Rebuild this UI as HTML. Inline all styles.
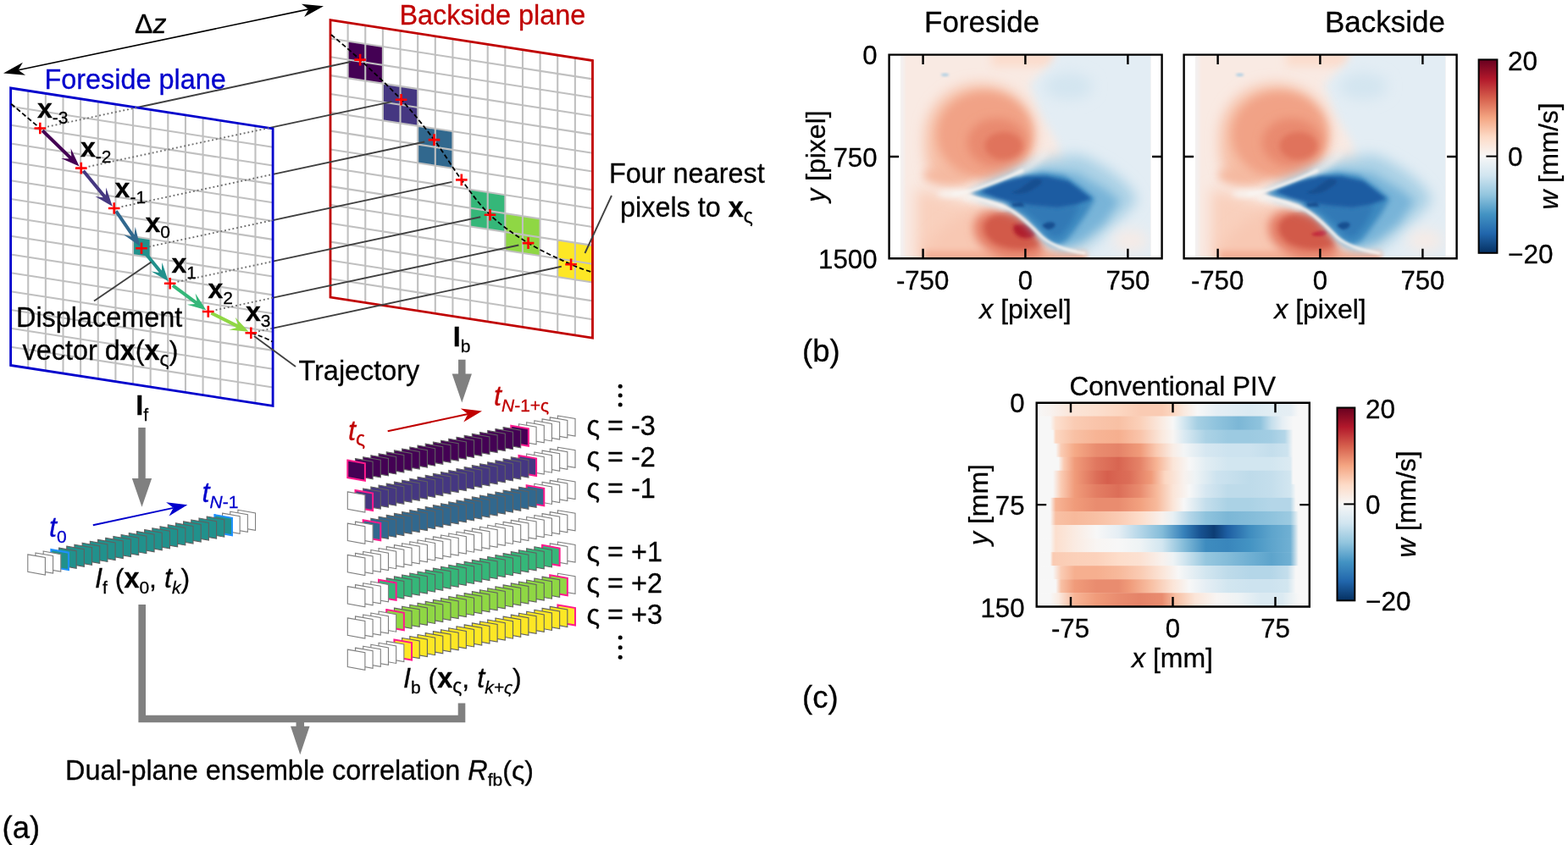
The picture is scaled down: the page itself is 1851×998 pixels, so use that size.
<!DOCTYPE html>
<html lang="en"><head><meta charset="utf-8"><title>Dual-plane ensemble correlation</title>
<style>html,body{margin:0;padding:0;background:#fff}svg{display:block}text{font-family:"Liberation Sans",sans-serif;fill:#000;stroke:#000;stroke-width:.3px}.bl{fill:#0000cc;stroke:#0000cc}.rd{fill:#c00000;stroke:#c00000}.i{font-style:italic}.b{font-weight:bold}</style>
</head><body>
<svg width="1851" height="998" viewBox="0 0 1851 998">
<defs><linearGradient id="cb" x1="0" y1="0" x2="0" y2="1"><stop offset="0" stop-color="#67001f"/><stop offset="0.1" stop-color="#b2182b"/><stop offset="0.2" stop-color="#d6604d"/><stop offset="0.3" stop-color="#f4a582"/><stop offset="0.4" stop-color="#fddbc7"/><stop offset="0.5" stop-color="#f7f7f7"/><stop offset="0.6" stop-color="#d1e5f0"/><stop offset="0.7" stop-color="#92c5de"/><stop offset="0.8" stop-color="#4393c3"/><stop offset="0.9" stop-color="#2166ac"/><stop offset="1" stop-color="#053061"/></linearGradient><filter id="b6" x="-50%" y="-50%" width="200%" height="200%"><feGaussianBlur stdDeviation="6"/></filter><filter id="b8" x="-50%" y="-50%" width="200%" height="200%"><feGaussianBlur stdDeviation="8"/></filter><filter id="b12" x="-50%" y="-50%" width="200%" height="200%"><feGaussianBlur stdDeviation="12"/></filter><filter id="b20" x="-50%" y="-50%" width="200%" height="200%"><feGaussianBlur stdDeviation="20"/></filter><filter id="b30" x="-50%" y="-50%" width="200%" height="200%"><feGaussianBlur stdDeviation="30"/></filter><clipPath id="hclip"><rect x="88" y="37" width="1134" height="925"/></clipPath><linearGradient id="c0"><stop offset="0" stop-color="#f7f7f7"/><stop offset="0.05" stop-color="#f8f2ef"/><stop offset="0.13" stop-color="#fbe5d8"/><stop offset="0.22" stop-color="#fcdfce"/><stop offset="0.3" stop-color="#fcd7c2"/><stop offset="0.38" stop-color="#facbb3"/><stop offset="0.46" stop-color="#facbb3"/><stop offset="0.5" stop-color="#fcd7c2"/><stop offset="0.54" stop-color="#fae9de"/><stop offset="0.59" stop-color="#f7f7f7"/><stop offset="0.66" stop-color="#e5eef4"/><stop offset="0.78" stop-color="#dbeaf2"/><stop offset="0.86" stop-color="#e1edf3"/><stop offset="0.93" stop-color="#e5eef4"/><stop offset="0.96" stop-color="#f7f7f7"/><stop offset="1" stop-color="#f7f7f7"/></linearGradient><linearGradient id="c1"><stop offset="0" stop-color="#f7f7f7"/><stop offset="0.05" stop-color="#f7f7f7"/><stop offset="0.07" stop-color="#fcdfce"/><stop offset="0.14" stop-color="#facbb3"/><stop offset="0.22" stop-color="#f9c4aa"/><stop offset="0.3" stop-color="#f8c0a4"/><stop offset="0.38" stop-color="#fbd0b9"/><stop offset="0.46" stop-color="#faebe2"/><stop offset="0.5" stop-color="#f7f7f7"/><stop offset="0.54" stop-color="#d2e6f0"/><stop offset="0.59" stop-color="#a5cfe3"/><stop offset="0.66" stop-color="#8fc3dd"/><stop offset="0.74" stop-color="#7cb7d6"/><stop offset="0.82" stop-color="#8fc3dd"/><stop offset="0.86" stop-color="#c4deec"/><stop offset="0.9" stop-color="#e5eef4"/><stop offset="0.94" stop-color="#f7f7f7"/><stop offset="1" stop-color="#f7f7f7"/></linearGradient><linearGradient id="c2"><stop offset="0" stop-color="#f7f7f7"/><stop offset="0.06" stop-color="#f7f7f7"/><stop offset="0.07" stop-color="#fcd7c2"/><stop offset="0.14" stop-color="#f8c0a4"/><stop offset="0.22" stop-color="#f7b495"/><stop offset="0.3" stop-color="#f6af8f"/><stop offset="0.38" stop-color="#f9c4aa"/><stop offset="0.46" stop-color="#fae9de"/><stop offset="0.5" stop-color="#f8f5f3"/><stop offset="0.54" stop-color="#dbeaf2"/><stop offset="0.62" stop-color="#abd2e5"/><stop offset="0.7" stop-color="#9ccae1"/><stop offset="0.78" stop-color="#9ccae1"/><stop offset="0.86" stop-color="#a2cde3"/><stop offset="0.91" stop-color="#b4d6e8"/><stop offset="0.94" stop-color="#f7f7f7"/><stop offset="1" stop-color="#f7f7f7"/></linearGradient><linearGradient id="c3"><stop offset="0" stop-color="#f7f7f7"/><stop offset="0.07" stop-color="#f7f7f7"/><stop offset="0.09" stop-color="#facbb3"/><stop offset="0.14" stop-color="#f5a986"/><stop offset="0.22" stop-color="#e98c6f"/><stop offset="0.3" stop-color="#e58368"/><stop offset="0.38" stop-color="#f09b7a"/><stop offset="0.44" stop-color="#facbb3"/><stop offset="0.5" stop-color="#f9ede6"/><stop offset="0.54" stop-color="#f3f5f6"/><stop offset="0.62" stop-color="#d6e7f1"/><stop offset="0.7" stop-color="#cde3ef"/><stop offset="0.78" stop-color="#cde3ef"/><stop offset="0.86" stop-color="#c4deec"/><stop offset="0.92" stop-color="#cde3ef"/><stop offset="0.94" stop-color="#f7f7f7"/><stop offset="1" stop-color="#f7f7f7"/></linearGradient><linearGradient id="c4"><stop offset="0" stop-color="#f7f7f7"/><stop offset="0.08" stop-color="#f7f7f7"/><stop offset="0.1" stop-color="#facbb3"/><stop offset="0.14" stop-color="#f09b7a"/><stop offset="0.22" stop-color="#e0775f"/><stop offset="0.3" stop-color="#d86551"/><stop offset="0.38" stop-color="#e58368"/><stop offset="0.44" stop-color="#f7b495"/><stop offset="0.5" stop-color="#fbe5d8"/><stop offset="0.56" stop-color="#f7f7f7"/><stop offset="0.62" stop-color="#e1edf3"/><stop offset="0.7" stop-color="#d2e6f0"/><stop offset="0.78" stop-color="#d2e6f0"/><stop offset="0.86" stop-color="#d2e6f0"/><stop offset="0.93" stop-color="#dbeaf2"/><stop offset="0.94" stop-color="#f7f7f7"/><stop offset="1" stop-color="#f7f7f7"/></linearGradient><linearGradient id="c5"><stop offset="0" stop-color="#f7f7f7"/><stop offset="0.06" stop-color="#f7f7f7"/><stop offset="0.09" stop-color="#facbb3"/><stop offset="0.14" stop-color="#f09b7a"/><stop offset="0.22" stop-color="#dc6e58"/><stop offset="0.26" stop-color="#d65f4d"/><stop offset="0.34" stop-color="#dc6e58"/><stop offset="0.42" stop-color="#f09b7a"/><stop offset="0.47" stop-color="#fcd7c2"/><stop offset="0.54" stop-color="#f8f1ed"/><stop offset="0.58" stop-color="#eef3f5"/><stop offset="0.66" stop-color="#cde3ef"/><stop offset="0.78" stop-color="#bedbea"/><stop offset="0.86" stop-color="#c4deec"/><stop offset="0.93" stop-color="#d2e6f0"/><stop offset="0.94" stop-color="#f7f7f7"/><stop offset="1" stop-color="#f7f7f7"/></linearGradient><linearGradient id="c6"><stop offset="0" stop-color="#f7f7f7"/><stop offset="0.06" stop-color="#f7f7f7"/><stop offset="0.09" stop-color="#facbb3"/><stop offset="0.14" stop-color="#f09b7a"/><stop offset="0.22" stop-color="#e37d63"/><stop offset="0.3" stop-color="#dc6e58"/><stop offset="0.38" stop-color="#e98c6f"/><stop offset="0.44" stop-color="#f7b99b"/><stop offset="0.5" stop-color="#fbe5d8"/><stop offset="0.56" stop-color="#f7f7f7"/><stop offset="0.62" stop-color="#d6e7f1"/><stop offset="0.7" stop-color="#bedbea"/><stop offset="0.78" stop-color="#bedbea"/><stop offset="0.86" stop-color="#c4deec"/><stop offset="0.93" stop-color="#d2e6f0"/><stop offset="0.95" stop-color="#f7f7f7"/><stop offset="1" stop-color="#f7f7f7"/></linearGradient><linearGradient id="c7"><stop offset="0" stop-color="#f7f7f7"/><stop offset="0.05" stop-color="#f7f7f7"/><stop offset="0.07" stop-color="#f7b495"/><stop offset="0.14" stop-color="#f09b7a"/><stop offset="0.22" stop-color="#e98c6f"/><stop offset="0.3" stop-color="#e98c6f"/><stop offset="0.38" stop-color="#f2a17f"/><stop offset="0.44" stop-color="#f7b99b"/><stop offset="0.5" stop-color="#fbe5d8"/><stop offset="0.54" stop-color="#f7f7f7"/><stop offset="0.62" stop-color="#c4deec"/><stop offset="0.7" stop-color="#abd2e5"/><stop offset="0.78" stop-color="#abd2e5"/><stop offset="0.86" stop-color="#b4d6e8"/><stop offset="0.93" stop-color="#b4d6e8"/><stop offset="0.95" stop-color="#f7f7f7"/><stop offset="1" stop-color="#f7f7f7"/></linearGradient><linearGradient id="c8"><stop offset="0" stop-color="#f7f7f7"/><stop offset="0.05" stop-color="#f7f7f7"/><stop offset="0.07" stop-color="#f8c0a4"/><stop offset="0.14" stop-color="#f7b99b"/><stop offset="0.22" stop-color="#f8c0a4"/><stop offset="0.3" stop-color="#facbb3"/><stop offset="0.38" stop-color="#fdddca"/><stop offset="0.46" stop-color="#f8f1ed"/><stop offset="0.5" stop-color="#e8f0f4"/><stop offset="0.56" stop-color="#b4d6e8"/><stop offset="0.62" stop-color="#8fc3dd"/><stop offset="0.7" stop-color="#7cb7d6"/><stop offset="0.78" stop-color="#84bcd9"/><stop offset="0.86" stop-color="#8fc3dd"/><stop offset="0.93" stop-color="#9ccae1"/><stop offset="0.96" stop-color="#f7f7f7"/><stop offset="1" stop-color="#f7f7f7"/></linearGradient><linearGradient id="c9"><stop offset="0" stop-color="#f7f7f7"/><stop offset="0.05" stop-color="#f7f7f7"/><stop offset="0.07" stop-color="#fcdfce"/><stop offset="0.14" stop-color="#faebe2"/><stop offset="0.22" stop-color="#f7f7f7"/><stop offset="0.3" stop-color="#e5eef4"/><stop offset="0.38" stop-color="#b4d6e8"/><stop offset="0.46" stop-color="#84bcd9"/><stop offset="0.54" stop-color="#3681ba"/><stop offset="0.6" stop-color="#175291"/><stop offset="0.65" stop-color="#0c3d74"/><stop offset="0.7" stop-color="#1e5fa3"/><stop offset="0.78" stop-color="#3e8cbf"/><stop offset="0.86" stop-color="#5da4cc"/><stop offset="0.93" stop-color="#70b0d3"/><stop offset="0.96" stop-color="#f7f7f7"/><stop offset="1" stop-color="#f7f7f7"/></linearGradient><linearGradient id="c10"><stop offset="0" stop-color="#f7f7f7"/><stop offset="0.05" stop-color="#f7f7f7"/><stop offset="0.07" stop-color="#fcdfce"/><stop offset="0.14" stop-color="#faebe2"/><stop offset="0.22" stop-color="#f8f5f3"/><stop offset="0.3" stop-color="#f7f7f7"/><stop offset="0.38" stop-color="#eef3f5"/><stop offset="0.46" stop-color="#d2e6f0"/><stop offset="0.54" stop-color="#84bcd9"/><stop offset="0.62" stop-color="#3e8cbf"/><stop offset="0.7" stop-color="#3986bc"/><stop offset="0.78" stop-color="#4393c3"/><stop offset="0.86" stop-color="#5da4cc"/><stop offset="0.93" stop-color="#70b0d3"/><stop offset="0.96" stop-color="#f7f7f7"/><stop offset="1" stop-color="#f7f7f7"/></linearGradient><linearGradient id="c11"><stop offset="0" stop-color="#f7f7f7"/><stop offset="0.05" stop-color="#f7f7f7"/><stop offset="0.06" stop-color="#facbb3"/><stop offset="0.14" stop-color="#fbd0b9"/><stop offset="0.22" stop-color="#fcd2bc"/><stop offset="0.3" stop-color="#fdddca"/><stop offset="0.38" stop-color="#fce1d2"/><stop offset="0.46" stop-color="#f8f1ed"/><stop offset="0.5" stop-color="#eef3f5"/><stop offset="0.54" stop-color="#d2e6f0"/><stop offset="0.62" stop-color="#96c7df"/><stop offset="0.7" stop-color="#84bcd9"/><stop offset="0.78" stop-color="#70b0d3"/><stop offset="0.86" stop-color="#5da4cc"/><stop offset="0.93" stop-color="#70b0d3"/><stop offset="0.96" stop-color="#f7f7f7"/><stop offset="1" stop-color="#f7f7f7"/></linearGradient><linearGradient id="c12"><stop offset="0" stop-color="#f7f7f7"/><stop offset="0.06" stop-color="#f7f7f7"/><stop offset="0.09" stop-color="#facbb3"/><stop offset="0.14" stop-color="#f6af8f"/><stop offset="0.22" stop-color="#f6af8f"/><stop offset="0.3" stop-color="#f7b99b"/><stop offset="0.38" stop-color="#facbb3"/><stop offset="0.46" stop-color="#fbe5d8"/><stop offset="0.52" stop-color="#f7f7f7"/><stop offset="0.62" stop-color="#d2e6f0"/><stop offset="0.7" stop-color="#bedbea"/><stop offset="0.78" stop-color="#b4d6e8"/><stop offset="0.86" stop-color="#b4d6e8"/><stop offset="0.92" stop-color="#c4deec"/><stop offset="0.95" stop-color="#f7f7f7"/><stop offset="1" stop-color="#f7f7f7"/></linearGradient><linearGradient id="c13"><stop offset="0" stop-color="#f7f7f7"/><stop offset="0.07" stop-color="#f7f7f7"/><stop offset="0.09" stop-color="#f8c0a4"/><stop offset="0.14" stop-color="#f09b7a"/><stop offset="0.22" stop-color="#e98c6f"/><stop offset="0.3" stop-color="#e98c6f"/><stop offset="0.34" stop-color="#f09b7a"/><stop offset="0.42" stop-color="#f8c0a4"/><stop offset="0.5" stop-color="#fbe5d8"/><stop offset="0.56" stop-color="#f7f7f7"/><stop offset="0.62" stop-color="#e5eef4"/><stop offset="0.7" stop-color="#d2e6f0"/><stop offset="0.78" stop-color="#cde3ef"/><stop offset="0.86" stop-color="#cde3ef"/><stop offset="0.92" stop-color="#d2e6f0"/><stop offset="0.95" stop-color="#f7f7f7"/><stop offset="1" stop-color="#f7f7f7"/></linearGradient><linearGradient id="c14"><stop offset="0" stop-color="#f7f7f7"/><stop offset="0.05" stop-color="#f7f7f7"/><stop offset="0.08" stop-color="#faebe2"/><stop offset="0.14" stop-color="#f7b495"/><stop offset="0.22" stop-color="#f09b7a"/><stop offset="0.3" stop-color="#e98c6f"/><stop offset="0.38" stop-color="#e58368"/><stop offset="0.46" stop-color="#e98c6f"/><stop offset="0.51" stop-color="#f8c0a4"/><stop offset="0.58" stop-color="#fbe5d8"/><stop offset="0.66" stop-color="#f8f5f3"/><stop offset="0.74" stop-color="#eef3f5"/><stop offset="0.82" stop-color="#dbeaf2"/><stop offset="0.9" stop-color="#dbeaf2"/><stop offset="0.94" stop-color="#eef3f5"/><stop offset="0.96" stop-color="#f7f7f7"/><stop offset="1" stop-color="#f7f7f7"/></linearGradient></defs>
<rect width="1851" height="998" fill="#fff"/>
<g id="backplane">
<polygon points="410.63,48.63 451.9,55.02 451.9,98.68 410.63,92.29" fill="#440154"/>
<polygon points="451.9,98.68 493.17,105.07 493.17,148.74 451.9,142.35" fill="#453781"/>
<polygon points="493.17,148.74 534.43,155.12 534.43,198.79 493.17,192.4" fill="#31688e"/>
<polygon points="555.07,223.82 596.33,230.21 596.33,273.87 555.07,267.49" fill="#35b779"/>
<polygon points="596.33,252.04 637.6,258.43 637.6,302.1 596.33,295.71" fill="#8fd744"/>
<polygon points="658.23,283.46 699.5,289.84 699.5,333.51 658.23,327.12" fill="#fde725"/>
<path d="M410.63 26.79L410.63 354.29M390 45.43L699.5 93.34M431.27 29.99L431.27 357.49M390 67.27L699.5 115.18M451.9 33.18L451.9 360.68M390 89.1L699.5 137.01M472.53 36.38L472.53 363.88M390 110.93L699.5 158.84M493.17 39.57L493.17 367.07M390 132.77L699.5 180.68M513.8 42.76L513.8 370.26M390 154.6L699.5 202.51M534.43 45.96L534.43 373.46M390 176.43L699.5 224.34M555.07 49.15L555.07 376.65M390 198.27L699.5 246.18M575.7 52.35L575.7 379.85M390 220.1L699.5 268.01M596.33 55.54L596.33 383.04M390 241.93L699.5 289.84M616.97 58.73L616.97 386.23M390 263.77L699.5 311.68M637.6 61.93L637.6 389.43M390 285.6L699.5 333.51M658.23 65.12L658.23 392.62M390 307.43L699.5 355.34M678.87 68.32L678.87 395.82M390 329.27L699.5 377.18" stroke="#c0c0c0" stroke-width="2.1" fill="none"/>
<polygon points="390,23.6 699.5,71.51 699.5,399.01 390,351.1" fill="none" stroke="#c00000" stroke-width="2.8" stroke-linejoin="miter"/>
</g>
<g id="links" fill="none">
<line x1="161.71" y1="127" x2="413.85" y2="73.01" stroke="#404040" stroke-width="1.9"/>
<line x1="317.52" y1="151.12" x2="462.35" y2="120.11" stroke="#404040" stroke-width="1.9"/>
<line x1="322.2" y1="205.85" x2="501.25" y2="167.51" stroke="#404040" stroke-width="1.9"/>
<line x1="322.23" y1="260.06" x2="533.55" y2="214.81" stroke="#404040" stroke-width="1.9"/>
<line x1="322.2" y1="308.68" x2="567.25" y2="256.21" stroke="#404040" stroke-width="1.9"/>
<line x1="322.32" y1="351.62" x2="612.35" y2="289.51" stroke="#404040" stroke-width="1.9"/>
<line x1="322.21" y1="387.65" x2="662.85" y2="314.71" stroke="#404040" stroke-width="1.9"/>
</g>
<path d="M391 41C396.68 45.93 411.33 57.82 425.1 70.6C438.87 83.38 459.03 101.95 473.6 117.7C488.17 133.45 500.63 149.32 512.5 165.1C524.37 180.88 533.8 197.62 544.8 212.4C555.8 227.18 565.37 241.35 578.5 253.8C591.63 266.25 607.67 277.35 623.6 287.1C639.53 296.85 661.53 306.57 674.1 312.3C686.67 318.03 694.85 319.97 699 321.5" stroke="#000" stroke-width="1.8" stroke-dasharray="5.5 3" fill="none"/>
<path d="M418.3 70.6H431.9M425.1 63.8V77.4" stroke="#ff0000" stroke-width="2.6" fill="none"/>
<path d="M466.8 117.7H480.4M473.6 110.9V124.5" stroke="#ff0000" stroke-width="2.6" fill="none"/>
<path d="M505.7 165.1H519.3M512.5 158.3V171.9" stroke="#ff0000" stroke-width="2.6" fill="none"/>
<path d="M538 212.4H551.6M544.8 205.6V219.2" stroke="#ff0000" stroke-width="2.6" fill="none"/>
<path d="M571.7 253.8H585.3M578.5 247V260.6" stroke="#ff0000" stroke-width="2.6" fill="none"/>
<path d="M616.8 287.1H630.4M623.6 280.3V293.9" stroke="#ff0000" stroke-width="2.6" fill="none"/>
<path d="M667.3 312.3H680.9M674.1 305.5V319.1" stroke="#ff0000" stroke-width="2.6" fill="none"/>
<g id="foreplane">
<polygon points="12.6,104 322.1,151.91 322.1,479.41 12.6,431.5" fill="#fff"/>
<polygon points="157.03,279.19 177.67,282.39 177.67,304.22 157.03,301.02" fill="#21918c"/>
<path d="M33.23 107.19L33.23 434.69M12.6 125.83L322.1 173.74M53.87 110.39L53.87 437.89M12.6 147.67L322.1 195.58M74.5 113.58L74.5 441.08M12.6 169.5L322.1 217.41M95.13 116.78L95.13 444.28M12.6 191.33L322.1 239.24M115.77 119.97L115.77 447.47M12.6 213.17L322.1 261.08M136.4 123.16L136.4 450.66M12.6 235L322.1 282.91M157.03 126.36L157.03 453.86M12.6 256.83L322.1 304.74M177.67 129.55L177.67 457.05M12.6 278.67L322.1 326.58M198.3 132.75L198.3 460.25M12.6 300.5L322.1 348.41M218.93 135.94L218.93 463.44M12.6 322.33L322.1 370.24M239.57 139.13L239.57 466.63M12.6 344.17L322.1 392.08M260.2 142.33L260.2 469.83M12.6 366L322.1 413.91M280.83 145.52L280.83 473.02M12.6 387.83L322.1 435.74M301.47 148.72L301.47 476.22M12.6 409.67L322.1 457.58" stroke="#c0c0c0" stroke-width="2.1" fill="none"/>
<polygon points="12.6,104 322.1,151.91 322.1,479.41 12.6,431.5" fill="none" stroke="#0000cc" stroke-width="2.8" stroke-linejoin="miter"/>
</g>
<line x1="56.1" y1="149.62" x2="161.71" y2="127" stroke="#707070" stroke-width="1.9" stroke-dasharray="1.9 2.9"/>
<line x1="104.6" y1="196.72" x2="317.52" y2="151.12" stroke="#707070" stroke-width="1.9" stroke-dasharray="1.9 2.9"/>
<line x1="143.5" y1="244.12" x2="322.2" y2="205.85" stroke="#707070" stroke-width="1.9" stroke-dasharray="1.9 2.9"/>
<line x1="175.8" y1="291.42" x2="322.23" y2="260.06" stroke="#707070" stroke-width="1.9" stroke-dasharray="1.9 2.9"/>
<line x1="209.5" y1="332.82" x2="322.2" y2="308.68" stroke="#707070" stroke-width="1.9" stroke-dasharray="1.9 2.9"/>
<line x1="254.6" y1="366.12" x2="322.32" y2="351.62" stroke="#707070" stroke-width="1.9" stroke-dasharray="1.9 2.9"/>
<line x1="305.1" y1="391.32" x2="322.21" y2="387.65" stroke="#707070" stroke-width="1.9" stroke-dasharray="1.9 2.9"/>
<path d="M13.2 122.7L47.3 151.5" stroke="#000" stroke-width="1.8" stroke-dasharray="5.5 3" fill="none"/>
<path d="M296.3 393.2Q312 398 321.5 403.5" stroke="#000" stroke-width="1.8" stroke-dasharray="5.5 3" fill="none"/>
<polygon points="48.78,155.72 81.49,187.49 72.12,187.1 93.65,196.51 83.61,175.26 84.28,184.63 51.56,152.85" fill="#440154"/>
<polygon points="96.79,202.96 121.73,233.35 112.46,231.91 132.8,243.68 125.22,221.44 124.83,230.82 99.88,200.42" fill="#453781"/>
<polygon points="135.3,250.43 155.2,279.56 146.09,277.31 165.31,290.82 159.71,268 158.5,277.31 138.61,248.18" fill="#31688e"/>
<polygon points="167.97,297.66 187.79,322 178.52,320.52 198.81,332.37 191.32,310.1 190.89,319.48 171.08,295.14" fill="#21918c"/>
<polygon points="202.73,338.68 230.13,358.92 220.79,359.79 243.39,366.22 230.59,346.51 232.51,355.7 205.11,335.47" fill="#35b779"/>
<polygon points="248.49,371.58 279.3,386.95 270.25,389.42 293.62,391.86 277.61,374.66 281.09,383.37 250.27,368" fill="#8fd744"/>
<path d="M40.5 151.5H54.1M47.3 144.7V158.3" stroke="#ff0000" stroke-width="2.6" fill="none"/>
<path d="M89 198.6H102.6M95.8 191.8V205.4" stroke="#ff0000" stroke-width="2.6" fill="none"/>
<path d="M127.9 246H141.5M134.7 239.2V252.8" stroke="#ff0000" stroke-width="2.6" fill="none"/>
<path d="M160.2 293.3H173.8M167 286.5V300.1" stroke="#ff0000" stroke-width="2.6" fill="none"/>
<path d="M193.9 334.7H207.5M200.7 327.9V341.5" stroke="#ff0000" stroke-width="2.6" fill="none"/>
<path d="M239 368H252.6M245.8 361.2V374.8" stroke="#ff0000" stroke-width="2.6" fill="none"/>
<path d="M289.5 393.2H303.1M296.3 386.4V400" stroke="#ff0000" stroke-width="2.6" fill="none"/>
<polygon points="4,86.4 26.88,73.69 21.62,82.71 30.06,88.86" fill="#000"/><line x1="21.62" y1="82.71" x2="364.38" y2="10.89" stroke="#000" stroke-width="1.6"/><polygon points="382,7.2 359.12,19.91 364.38,10.89 355.94,4.74" fill="#000"/>
<text x="159" y="39" font-size="32"><tspan>Δ</tspan><tspan class="i">z</tspan></text>
<text x="52.5" y="105" font-size="32.4" class="bl">Foreside plane</text>
<text x="471.5" y="28.5" font-size="32.4" class="rd">Backside plane</text>
<text x="44" y="139" font-size="32"><tspan class="b">x</tspan><tspan dy="7" font-size="21">-3</tspan></text>
<text x="95" y="184.5" font-size="32"><tspan class="b">x</tspan><tspan dy="7" font-size="21">-2</tspan></text>
<text x="135.6" y="233" font-size="32"><tspan class="b">x</tspan><tspan dy="7" font-size="21">-1</tspan></text>
<text x="171.5" y="273.5" font-size="32"><tspan class="b">x</tspan><tspan dy="7" font-size="21">0</tspan></text>
<text x="202.5" y="321.5" font-size="32"><tspan class="b">x</tspan><tspan dy="7" font-size="21">1</tspan></text>
<text x="245.4" y="352" font-size="32"><tspan class="b">x</tspan><tspan dy="7" font-size="21">2</tspan></text>
<text x="290" y="379" font-size="32"><tspan class="b">x</tspan><tspan dy="7" font-size="21">3</tspan></text>
<path d="M111 355.5L178.5 309.5" stroke="#404040" stroke-width="1.9" fill="none"/>
<text x="19" y="386" font-size="32.4">Displacement</text>
<text x="26.5" y="424.5" font-size="32.4"><tspan>vector d</tspan><tspan class="b">x</tspan><tspan>(</tspan><tspan class="b">x</tspan><tspan dy="7" font-size="23">ς</tspan><tspan dy="-7" font-size="32">)</tspan></text>
<path d="M300 397L349 433" stroke="#404040" stroke-width="1.9" fill="none"/>
<text x="352.5" y="448.5" font-size="32.4">Trajectory</text>
<path d="M722 231L690.5 299" stroke="#404040" stroke-width="1.9" fill="none"/>
<text x="719" y="215.5" font-size="32.4">Four nearest</text>
<text x="732" y="256" font-size="32.4"><tspan>pixels to </tspan><tspan class="b">x</tspan><tspan dy="7" font-size="23">ς</tspan></text>
<text x="160.3" y="489.7" font-size="32.4"><tspan class="b">I</tspan><tspan dy="7" font-size="21">f</tspan></text>
<text x="534.8" y="408.5" font-size="32.4"><tspan class="b">I</tspan><tspan dy="7" font-size="21">b</tspan></text>
<polygon points="163.25,504.9 171.75,504.9 171.75,565 179.15,565 167.5,598.7 155.85,565 163.25,565" fill="#808080"/>
<polygon points="541.05,424.7 549.55,424.7 549.55,441.5 556.95,441.5 545.3,475.5 533.65,441.5 541.05,441.5" fill="#808080"/>
<path d="M167.7 714V849H545V830.6" stroke="#808080" stroke-width="8.6" fill="none" stroke-linejoin="miter"/>
<polygon points="349.55,850 359.05,850 359.05,857.7 365.55,857.7 354.3,891.3 343.05,857.7 349.55,857.7" fill="#808080"/>
<g stroke-linejoin="miter"><polygon points="280.93,602.25 301.53,605.88 301.53,626.38 280.93,622.75" fill="#fff" stroke="#7f7f7f" stroke-width="1.1"/><polygon points="271.74,604.2 292.34,607.83 292.34,628.33 271.74,624.7" fill="#fff" stroke="#7f7f7f" stroke-width="1.1"/><polygon points="262.55,606.15 283.15,609.78 283.15,630.28 262.55,626.65" fill="#fff" stroke="#7f7f7f" stroke-width="1.1"/><polygon points="253.36,608.1 273.96,611.73 273.96,632.23 253.36,628.6" fill="#21918c" stroke="#1e90ff" stroke-width="2"/><polygon points="244.17,610.05 264.77,613.68 264.77,634.18 244.17,630.55" fill="#21918c" stroke="#606060" stroke-width="1.1"/><polygon points="234.98,612 255.58,615.63 255.58,636.13 234.98,632.5" fill="#21918c" stroke="#606060" stroke-width="1.1"/><polygon points="225.79,613.95 246.39,617.58 246.39,638.08 225.79,634.45" fill="#21918c" stroke="#606060" stroke-width="1.1"/><polygon points="216.6,615.9 237.2,619.53 237.2,640.03 216.6,636.4" fill="#21918c" stroke="#606060" stroke-width="1.1"/><polygon points="207.41,617.85 228.01,621.48 228.01,641.98 207.41,638.35" fill="#21918c" stroke="#606060" stroke-width="1.1"/><polygon points="198.22,619.8 218.82,623.43 218.82,643.93 198.22,640.3" fill="#21918c" stroke="#606060" stroke-width="1.1"/><polygon points="189.03,621.75 209.63,625.38 209.63,645.88 189.03,642.25" fill="#21918c" stroke="#606060" stroke-width="1.1"/><polygon points="179.84,623.7 200.44,627.33 200.44,647.83 179.84,644.2" fill="#21918c" stroke="#606060" stroke-width="1.1"/><polygon points="170.65,625.65 191.25,629.28 191.25,649.78 170.65,646.15" fill="#21918c" stroke="#606060" stroke-width="1.1"/><polygon points="161.46,627.6 182.06,631.23 182.06,651.73 161.46,648.1" fill="#21918c" stroke="#606060" stroke-width="1.1"/><polygon points="152.27,629.55 172.87,633.18 172.87,653.68 152.27,650.05" fill="#21918c" stroke="#606060" stroke-width="1.1"/><polygon points="143.08,631.5 163.68,635.13 163.68,655.63 143.08,652" fill="#21918c" stroke="#606060" stroke-width="1.1"/><polygon points="133.89,633.45 154.49,637.08 154.49,657.58 133.89,653.95" fill="#21918c" stroke="#606060" stroke-width="1.1"/><polygon points="124.7,635.4 145.3,639.03 145.3,659.53 124.7,655.9" fill="#21918c" stroke="#606060" stroke-width="1.1"/><polygon points="115.51,637.35 136.11,640.98 136.11,661.48 115.51,657.85" fill="#21918c" stroke="#606060" stroke-width="1.1"/><polygon points="106.32,639.3 126.92,642.93 126.92,663.43 106.32,659.8" fill="#21918c" stroke="#606060" stroke-width="1.1"/><polygon points="97.13,641.25 117.73,644.88 117.73,665.38 97.13,661.75" fill="#21918c" stroke="#606060" stroke-width="1.1"/><polygon points="87.94,643.2 108.54,646.83 108.54,667.33 87.94,663.7" fill="#21918c" stroke="#606060" stroke-width="1.1"/><polygon points="78.75,645.15 99.35,648.78 99.35,669.28 78.75,665.65" fill="#21918c" stroke="#606060" stroke-width="1.1"/><polygon points="69.56,647.1 90.16,650.73 90.16,671.23 69.56,667.6" fill="#21918c" stroke="#606060" stroke-width="1.1"/><polygon points="60.37,649.05 80.97,652.68 80.97,673.18 60.37,669.55" fill="#21918c" stroke="#1e90ff" stroke-width="2"/><polygon points="51.18,651 71.78,654.63 71.78,675.13 51.18,671.5" fill="#fff" stroke="#7f7f7f" stroke-width="1.1"/><polygon points="41.99,652.95 62.59,656.58 62.59,677.08 41.99,673.45" fill="#fff" stroke="#7f7f7f" stroke-width="1.1"/><polygon points="32.8,654.9 53.4,658.53 53.4,679.03 32.8,675.4" fill="#fff" stroke="#7f7f7f" stroke-width="1.1"/></g>
<g stroke-linejoin="miter"><polygon points="658.43,490.95 679.03,494.58 679.03,515.08 658.43,511.45" fill="#fff" stroke="#7f7f7f" stroke-width="1.1"/><polygon points="649.24,492.9 669.84,496.53 669.84,517.03 649.24,513.4" fill="#fff" stroke="#7f7f7f" stroke-width="1.1"/><polygon points="640.05,494.85 660.65,498.48 660.65,518.98 640.05,515.35" fill="#fff" stroke="#7f7f7f" stroke-width="1.1"/><polygon points="630.86,496.8 651.46,500.43 651.46,520.93 630.86,517.3" fill="#fff" stroke="#7f7f7f" stroke-width="1.1"/><polygon points="621.67,498.75 642.27,502.38 642.27,522.88 621.67,519.25" fill="#fff" stroke="#7f7f7f" stroke-width="1.1"/><polygon points="612.48,500.7 633.08,504.33 633.08,524.83 612.48,521.2" fill="#fff" stroke="#7f7f7f" stroke-width="1.1"/><polygon points="603.29,502.65 623.89,506.28 623.89,526.78 603.29,523.15" fill="#440154" stroke="#ff1a8c" stroke-width="2"/><polygon points="594.1,504.6 614.7,508.23 614.7,528.73 594.1,525.1" fill="#440154" stroke="#606060" stroke-width="1.1"/><polygon points="584.91,506.55 605.51,510.18 605.51,530.68 584.91,527.05" fill="#440154" stroke="#606060" stroke-width="1.1"/><polygon points="575.72,508.5 596.32,512.13 596.32,532.63 575.72,529" fill="#440154" stroke="#606060" stroke-width="1.1"/><polygon points="566.53,510.45 587.13,514.08 587.13,534.58 566.53,530.95" fill="#440154" stroke="#606060" stroke-width="1.1"/><polygon points="557.34,512.4 577.94,516.03 577.94,536.53 557.34,532.9" fill="#440154" stroke="#606060" stroke-width="1.1"/><polygon points="548.15,514.35 568.75,517.98 568.75,538.48 548.15,534.85" fill="#440154" stroke="#606060" stroke-width="1.1"/><polygon points="538.96,516.3 559.56,519.93 559.56,540.43 538.96,536.8" fill="#440154" stroke="#606060" stroke-width="1.1"/><polygon points="529.77,518.25 550.37,521.88 550.37,542.38 529.77,538.75" fill="#440154" stroke="#606060" stroke-width="1.1"/><polygon points="520.58,520.2 541.18,523.83 541.18,544.33 520.58,540.7" fill="#440154" stroke="#606060" stroke-width="1.1"/><polygon points="511.39,522.15 531.99,525.78 531.99,546.28 511.39,542.65" fill="#440154" stroke="#606060" stroke-width="1.1"/><polygon points="502.2,524.1 522.8,527.73 522.8,548.23 502.2,544.6" fill="#440154" stroke="#606060" stroke-width="1.1"/><polygon points="493.01,526.05 513.61,529.68 513.61,550.18 493.01,546.55" fill="#440154" stroke="#606060" stroke-width="1.1"/><polygon points="483.82,528 504.42,531.63 504.42,552.13 483.82,548.5" fill="#440154" stroke="#606060" stroke-width="1.1"/><polygon points="474.63,529.95 495.23,533.58 495.23,554.08 474.63,550.45" fill="#440154" stroke="#606060" stroke-width="1.1"/><polygon points="465.44,531.9 486.04,535.53 486.04,556.03 465.44,552.4" fill="#440154" stroke="#606060" stroke-width="1.1"/><polygon points="456.25,533.85 476.85,537.48 476.85,557.98 456.25,554.35" fill="#440154" stroke="#606060" stroke-width="1.1"/><polygon points="447.06,535.8 467.66,539.43 467.66,559.93 447.06,556.3" fill="#440154" stroke="#606060" stroke-width="1.1"/><polygon points="437.87,537.75 458.47,541.38 458.47,561.88 437.87,558.25" fill="#440154" stroke="#606060" stroke-width="1.1"/><polygon points="428.68,539.7 449.28,543.33 449.28,563.83 428.68,560.2" fill="#440154" stroke="#606060" stroke-width="1.1"/><polygon points="419.49,541.65 440.09,545.28 440.09,565.78 419.49,562.15" fill="#440154" stroke="#606060" stroke-width="1.1"/><polygon points="410.3,543.6 430.9,547.23 430.9,567.73 410.3,564.1" fill="#440154" stroke="#ff1a8c" stroke-width="2"/></g>
<g stroke-linejoin="miter"><polygon points="658.43,528.2 679.03,531.83 679.03,552.33 658.43,548.7" fill="#fff" stroke="#7f7f7f" stroke-width="1.1"/><polygon points="649.24,530.15 669.84,533.78 669.84,554.28 649.24,550.65" fill="#fff" stroke="#7f7f7f" stroke-width="1.1"/><polygon points="640.05,532.1 660.65,535.73 660.65,556.23 640.05,552.6" fill="#fff" stroke="#7f7f7f" stroke-width="1.1"/><polygon points="630.86,534.05 651.46,537.68 651.46,558.18 630.86,554.55" fill="#fff" stroke="#7f7f7f" stroke-width="1.1"/><polygon points="621.67,536 642.27,539.63 642.27,560.13 621.67,556.5" fill="#fff" stroke="#7f7f7f" stroke-width="1.1"/><polygon points="612.48,537.95 633.08,541.58 633.08,562.08 612.48,558.45" fill="#453781" stroke="#ff1a8c" stroke-width="2"/><polygon points="603.29,539.9 623.89,543.53 623.89,564.03 603.29,560.4" fill="#453781" stroke="#606060" stroke-width="1.1"/><polygon points="594.1,541.85 614.7,545.48 614.7,565.98 594.1,562.35" fill="#453781" stroke="#606060" stroke-width="1.1"/><polygon points="584.91,543.8 605.51,547.43 605.51,567.93 584.91,564.3" fill="#453781" stroke="#606060" stroke-width="1.1"/><polygon points="575.72,545.75 596.32,549.38 596.32,569.88 575.72,566.25" fill="#453781" stroke="#606060" stroke-width="1.1"/><polygon points="566.53,547.7 587.13,551.33 587.13,571.83 566.53,568.2" fill="#453781" stroke="#606060" stroke-width="1.1"/><polygon points="557.34,549.65 577.94,553.28 577.94,573.78 557.34,570.15" fill="#453781" stroke="#606060" stroke-width="1.1"/><polygon points="548.15,551.6 568.75,555.23 568.75,575.73 548.15,572.1" fill="#453781" stroke="#606060" stroke-width="1.1"/><polygon points="538.96,553.55 559.56,557.18 559.56,577.68 538.96,574.05" fill="#453781" stroke="#606060" stroke-width="1.1"/><polygon points="529.77,555.5 550.37,559.13 550.37,579.63 529.77,576" fill="#453781" stroke="#606060" stroke-width="1.1"/><polygon points="520.58,557.45 541.18,561.08 541.18,581.58 520.58,577.95" fill="#453781" stroke="#606060" stroke-width="1.1"/><polygon points="511.39,559.4 531.99,563.03 531.99,583.53 511.39,579.9" fill="#453781" stroke="#606060" stroke-width="1.1"/><polygon points="502.2,561.35 522.8,564.98 522.8,585.48 502.2,581.85" fill="#453781" stroke="#606060" stroke-width="1.1"/><polygon points="493.01,563.3 513.61,566.93 513.61,587.43 493.01,583.8" fill="#453781" stroke="#606060" stroke-width="1.1"/><polygon points="483.82,565.25 504.42,568.88 504.42,589.38 483.82,585.75" fill="#453781" stroke="#606060" stroke-width="1.1"/><polygon points="474.63,567.2 495.23,570.83 495.23,591.33 474.63,587.7" fill="#453781" stroke="#606060" stroke-width="1.1"/><polygon points="465.44,569.15 486.04,572.78 486.04,593.28 465.44,589.65" fill="#453781" stroke="#606060" stroke-width="1.1"/><polygon points="456.25,571.1 476.85,574.73 476.85,595.23 456.25,591.6" fill="#453781" stroke="#606060" stroke-width="1.1"/><polygon points="447.06,573.05 467.66,576.68 467.66,597.18 447.06,593.55" fill="#453781" stroke="#606060" stroke-width="1.1"/><polygon points="437.87,575 458.47,578.63 458.47,599.13 437.87,595.5" fill="#453781" stroke="#606060" stroke-width="1.1"/><polygon points="428.68,576.95 449.28,580.58 449.28,601.08 428.68,597.45" fill="#453781" stroke="#606060" stroke-width="1.1"/><polygon points="419.49,578.9 440.09,582.53 440.09,603.03 419.49,599.4" fill="#453781" stroke="#ff1a8c" stroke-width="2"/><polygon points="410.3,580.85 430.9,584.48 430.9,604.98 410.3,601.35" fill="#fff" stroke="#7f7f7f" stroke-width="1.1"/></g>
<g stroke-linejoin="miter"><polygon points="658.43,565.45 679.03,569.08 679.03,589.58 658.43,585.95" fill="#fff" stroke="#7f7f7f" stroke-width="1.1"/><polygon points="649.24,567.4 669.84,571.03 669.84,591.53 649.24,587.9" fill="#fff" stroke="#7f7f7f" stroke-width="1.1"/><polygon points="640.05,569.35 660.65,572.98 660.65,593.48 640.05,589.85" fill="#fff" stroke="#7f7f7f" stroke-width="1.1"/><polygon points="630.86,571.3 651.46,574.93 651.46,595.43 630.86,591.8" fill="#fff" stroke="#7f7f7f" stroke-width="1.1"/><polygon points="621.67,573.25 642.27,576.88 642.27,597.38 621.67,593.75" fill="#31688e" stroke="#ff1a8c" stroke-width="2"/><polygon points="612.48,575.2 633.08,578.83 633.08,599.33 612.48,595.7" fill="#31688e" stroke="#606060" stroke-width="1.1"/><polygon points="603.29,577.15 623.89,580.78 623.89,601.28 603.29,597.65" fill="#31688e" stroke="#606060" stroke-width="1.1"/><polygon points="594.1,579.1 614.7,582.73 614.7,603.23 594.1,599.6" fill="#31688e" stroke="#606060" stroke-width="1.1"/><polygon points="584.91,581.05 605.51,584.68 605.51,605.18 584.91,601.55" fill="#31688e" stroke="#606060" stroke-width="1.1"/><polygon points="575.72,583 596.32,586.63 596.32,607.13 575.72,603.5" fill="#31688e" stroke="#606060" stroke-width="1.1"/><polygon points="566.53,584.95 587.13,588.58 587.13,609.08 566.53,605.45" fill="#31688e" stroke="#606060" stroke-width="1.1"/><polygon points="557.34,586.9 577.94,590.53 577.94,611.03 557.34,607.4" fill="#31688e" stroke="#606060" stroke-width="1.1"/><polygon points="548.15,588.85 568.75,592.48 568.75,612.98 548.15,609.35" fill="#31688e" stroke="#606060" stroke-width="1.1"/><polygon points="538.96,590.8 559.56,594.43 559.56,614.93 538.96,611.3" fill="#31688e" stroke="#606060" stroke-width="1.1"/><polygon points="529.77,592.75 550.37,596.38 550.37,616.88 529.77,613.25" fill="#31688e" stroke="#606060" stroke-width="1.1"/><polygon points="520.58,594.7 541.18,598.33 541.18,618.83 520.58,615.2" fill="#31688e" stroke="#606060" stroke-width="1.1"/><polygon points="511.39,596.65 531.99,600.28 531.99,620.78 511.39,617.15" fill="#31688e" stroke="#606060" stroke-width="1.1"/><polygon points="502.2,598.6 522.8,602.23 522.8,622.73 502.2,619.1" fill="#31688e" stroke="#606060" stroke-width="1.1"/><polygon points="493.01,600.55 513.61,604.18 513.61,624.68 493.01,621.05" fill="#31688e" stroke="#606060" stroke-width="1.1"/><polygon points="483.82,602.5 504.42,606.13 504.42,626.63 483.82,623" fill="#31688e" stroke="#606060" stroke-width="1.1"/><polygon points="474.63,604.45 495.23,608.08 495.23,628.58 474.63,624.95" fill="#31688e" stroke="#606060" stroke-width="1.1"/><polygon points="465.44,606.4 486.04,610.03 486.04,630.53 465.44,626.9" fill="#31688e" stroke="#606060" stroke-width="1.1"/><polygon points="456.25,608.35 476.85,611.98 476.85,632.48 456.25,628.85" fill="#31688e" stroke="#606060" stroke-width="1.1"/><polygon points="447.06,610.3 467.66,613.93 467.66,634.43 447.06,630.8" fill="#31688e" stroke="#606060" stroke-width="1.1"/><polygon points="437.87,612.25 458.47,615.88 458.47,636.38 437.87,632.75" fill="#31688e" stroke="#606060" stroke-width="1.1"/><polygon points="428.68,614.2 449.28,617.83 449.28,638.33 428.68,634.7" fill="#31688e" stroke="#ff1a8c" stroke-width="2"/><polygon points="419.49,616.15 440.09,619.78 440.09,640.28 419.49,636.65" fill="#fff" stroke="#7f7f7f" stroke-width="1.1"/><polygon points="410.3,618.1 430.9,621.73 430.9,642.23 410.3,638.6" fill="#fff" stroke="#7f7f7f" stroke-width="1.1"/></g>
<g stroke-linejoin="miter"><polygon points="658.43,602.7 679.03,606.33 679.03,626.83 658.43,623.2" fill="#fff" stroke="#7f7f7f" stroke-width="1.1"/><polygon points="649.24,604.65 669.84,608.28 669.84,628.78 649.24,625.15" fill="#fff" stroke="#7f7f7f" stroke-width="1.1"/><polygon points="640.05,606.6 660.65,610.23 660.65,630.73 640.05,627.1" fill="#fff" stroke="#7f7f7f" stroke-width="1.1"/><polygon points="630.86,608.55 651.46,612.18 651.46,632.68 630.86,629.05" fill="#fff" stroke="#7f7f7f" stroke-width="1.1"/><polygon points="621.67,610.5 642.27,614.13 642.27,634.63 621.67,631" fill="#fff" stroke="#7f7f7f" stroke-width="1.1"/><polygon points="612.48,612.45 633.08,616.08 633.08,636.58 612.48,632.95" fill="#fff" stroke="#7f7f7f" stroke-width="1.1"/><polygon points="603.29,614.4 623.89,618.03 623.89,638.53 603.29,634.9" fill="#fff" stroke="#7f7f7f" stroke-width="1.1"/><polygon points="594.1,616.35 614.7,619.98 614.7,640.48 594.1,636.85" fill="#fff" stroke="#7f7f7f" stroke-width="1.1"/><polygon points="584.91,618.3 605.51,621.93 605.51,642.43 584.91,638.8" fill="#fff" stroke="#7f7f7f" stroke-width="1.1"/><polygon points="575.72,620.25 596.32,623.88 596.32,644.38 575.72,640.75" fill="#fff" stroke="#7f7f7f" stroke-width="1.1"/><polygon points="566.53,622.2 587.13,625.83 587.13,646.33 566.53,642.7" fill="#fff" stroke="#7f7f7f" stroke-width="1.1"/><polygon points="557.34,624.15 577.94,627.78 577.94,648.28 557.34,644.65" fill="#fff" stroke="#7f7f7f" stroke-width="1.1"/><polygon points="548.15,626.1 568.75,629.73 568.75,650.23 548.15,646.6" fill="#fff" stroke="#7f7f7f" stroke-width="1.1"/><polygon points="538.96,628.05 559.56,631.68 559.56,652.18 538.96,648.55" fill="#fff" stroke="#7f7f7f" stroke-width="1.1"/><polygon points="529.77,630 550.37,633.63 550.37,654.13 529.77,650.5" fill="#fff" stroke="#7f7f7f" stroke-width="1.1"/><polygon points="520.58,631.95 541.18,635.58 541.18,656.08 520.58,652.45" fill="#fff" stroke="#7f7f7f" stroke-width="1.1"/><polygon points="511.39,633.9 531.99,637.53 531.99,658.03 511.39,654.4" fill="#fff" stroke="#7f7f7f" stroke-width="1.1"/><polygon points="502.2,635.85 522.8,639.48 522.8,659.98 502.2,656.35" fill="#fff" stroke="#7f7f7f" stroke-width="1.1"/><polygon points="493.01,637.8 513.61,641.43 513.61,661.93 493.01,658.3" fill="#fff" stroke="#7f7f7f" stroke-width="1.1"/><polygon points="483.82,639.75 504.42,643.38 504.42,663.88 483.82,660.25" fill="#fff" stroke="#7f7f7f" stroke-width="1.1"/><polygon points="474.63,641.7 495.23,645.33 495.23,665.83 474.63,662.2" fill="#fff" stroke="#7f7f7f" stroke-width="1.1"/><polygon points="465.44,643.65 486.04,647.28 486.04,667.78 465.44,664.15" fill="#fff" stroke="#7f7f7f" stroke-width="1.1"/><polygon points="456.25,645.6 476.85,649.23 476.85,669.73 456.25,666.1" fill="#fff" stroke="#7f7f7f" stroke-width="1.1"/><polygon points="447.06,647.55 467.66,651.18 467.66,671.68 447.06,668.05" fill="#fff" stroke="#7f7f7f" stroke-width="1.1"/><polygon points="437.87,649.5 458.47,653.13 458.47,673.63 437.87,670" fill="#fff" stroke="#7f7f7f" stroke-width="1.1"/><polygon points="428.68,651.45 449.28,655.08 449.28,675.58 428.68,671.95" fill="#fff" stroke="#7f7f7f" stroke-width="1.1"/><polygon points="419.49,653.4 440.09,657.03 440.09,677.53 419.49,673.9" fill="#fff" stroke="#7f7f7f" stroke-width="1.1"/><polygon points="410.3,655.35 430.9,658.98 430.9,679.48 410.3,675.85" fill="#fff" stroke="#7f7f7f" stroke-width="1.1"/></g>
<g stroke-linejoin="miter"><polygon points="658.43,639.95 679.03,643.58 679.03,664.08 658.43,660.45" fill="#fff" stroke="#7f7f7f" stroke-width="1.1"/><polygon points="649.24,641.9 669.84,645.53 669.84,666.03 649.24,662.4" fill="#fff" stroke="#7f7f7f" stroke-width="1.1"/><polygon points="640.05,643.85 660.65,647.48 660.65,667.98 640.05,664.35" fill="#35b779" stroke="#ff1a8c" stroke-width="2"/><polygon points="630.86,645.8 651.46,649.43 651.46,669.93 630.86,666.3" fill="#35b779" stroke="#606060" stroke-width="1.1"/><polygon points="621.67,647.75 642.27,651.38 642.27,671.88 621.67,668.25" fill="#35b779" stroke="#606060" stroke-width="1.1"/><polygon points="612.48,649.7 633.08,653.33 633.08,673.83 612.48,670.2" fill="#35b779" stroke="#606060" stroke-width="1.1"/><polygon points="603.29,651.65 623.89,655.28 623.89,675.78 603.29,672.15" fill="#35b779" stroke="#606060" stroke-width="1.1"/><polygon points="594.1,653.6 614.7,657.23 614.7,677.73 594.1,674.1" fill="#35b779" stroke="#606060" stroke-width="1.1"/><polygon points="584.91,655.55 605.51,659.18 605.51,679.68 584.91,676.05" fill="#35b779" stroke="#606060" stroke-width="1.1"/><polygon points="575.72,657.5 596.32,661.13 596.32,681.63 575.72,678" fill="#35b779" stroke="#606060" stroke-width="1.1"/><polygon points="566.53,659.45 587.13,663.08 587.13,683.58 566.53,679.95" fill="#35b779" stroke="#606060" stroke-width="1.1"/><polygon points="557.34,661.4 577.94,665.03 577.94,685.53 557.34,681.9" fill="#35b779" stroke="#606060" stroke-width="1.1"/><polygon points="548.15,663.35 568.75,666.98 568.75,687.48 548.15,683.85" fill="#35b779" stroke="#606060" stroke-width="1.1"/><polygon points="538.96,665.3 559.56,668.93 559.56,689.43 538.96,685.8" fill="#35b779" stroke="#606060" stroke-width="1.1"/><polygon points="529.77,667.25 550.37,670.88 550.37,691.38 529.77,687.75" fill="#35b779" stroke="#606060" stroke-width="1.1"/><polygon points="520.58,669.2 541.18,672.83 541.18,693.33 520.58,689.7" fill="#35b779" stroke="#606060" stroke-width="1.1"/><polygon points="511.39,671.15 531.99,674.78 531.99,695.28 511.39,691.65" fill="#35b779" stroke="#606060" stroke-width="1.1"/><polygon points="502.2,673.1 522.8,676.73 522.8,697.23 502.2,693.6" fill="#35b779" stroke="#606060" stroke-width="1.1"/><polygon points="493.01,675.05 513.61,678.68 513.61,699.18 493.01,695.55" fill="#35b779" stroke="#606060" stroke-width="1.1"/><polygon points="483.82,677 504.42,680.63 504.42,701.13 483.82,697.5" fill="#35b779" stroke="#606060" stroke-width="1.1"/><polygon points="474.63,678.95 495.23,682.58 495.23,703.08 474.63,699.45" fill="#35b779" stroke="#606060" stroke-width="1.1"/><polygon points="465.44,680.9 486.04,684.53 486.04,705.03 465.44,701.4" fill="#35b779" stroke="#606060" stroke-width="1.1"/><polygon points="456.25,682.85 476.85,686.48 476.85,706.98 456.25,703.35" fill="#35b779" stroke="#606060" stroke-width="1.1"/><polygon points="447.06,684.8 467.66,688.43 467.66,708.93 447.06,705.3" fill="#35b779" stroke="#ff1a8c" stroke-width="2"/><polygon points="437.87,686.75 458.47,690.38 458.47,710.88 437.87,707.25" fill="#fff" stroke="#7f7f7f" stroke-width="1.1"/><polygon points="428.68,688.7 449.28,692.33 449.28,712.83 428.68,709.2" fill="#fff" stroke="#7f7f7f" stroke-width="1.1"/><polygon points="419.49,690.65 440.09,694.28 440.09,714.78 419.49,711.15" fill="#fff" stroke="#7f7f7f" stroke-width="1.1"/><polygon points="410.3,692.6 430.9,696.23 430.9,716.73 410.3,713.1" fill="#fff" stroke="#7f7f7f" stroke-width="1.1"/></g>
<g stroke-linejoin="miter"><polygon points="658.43,677.2 679.03,680.83 679.03,701.33 658.43,697.7" fill="#fff" stroke="#7f7f7f" stroke-width="1.1"/><polygon points="649.24,679.15 669.84,682.78 669.84,703.28 649.24,699.65" fill="#8fd744" stroke="#ff1a8c" stroke-width="2"/><polygon points="640.05,681.1 660.65,684.73 660.65,705.23 640.05,701.6" fill="#8fd744" stroke="#606060" stroke-width="1.1"/><polygon points="630.86,683.05 651.46,686.68 651.46,707.18 630.86,703.55" fill="#8fd744" stroke="#606060" stroke-width="1.1"/><polygon points="621.67,685 642.27,688.63 642.27,709.13 621.67,705.5" fill="#8fd744" stroke="#606060" stroke-width="1.1"/><polygon points="612.48,686.95 633.08,690.58 633.08,711.08 612.48,707.45" fill="#8fd744" stroke="#606060" stroke-width="1.1"/><polygon points="603.29,688.9 623.89,692.53 623.89,713.03 603.29,709.4" fill="#8fd744" stroke="#606060" stroke-width="1.1"/><polygon points="594.1,690.85 614.7,694.48 614.7,714.98 594.1,711.35" fill="#8fd744" stroke="#606060" stroke-width="1.1"/><polygon points="584.91,692.8 605.51,696.43 605.51,716.93 584.91,713.3" fill="#8fd744" stroke="#606060" stroke-width="1.1"/><polygon points="575.72,694.75 596.32,698.38 596.32,718.88 575.72,715.25" fill="#8fd744" stroke="#606060" stroke-width="1.1"/><polygon points="566.53,696.7 587.13,700.33 587.13,720.83 566.53,717.2" fill="#8fd744" stroke="#606060" stroke-width="1.1"/><polygon points="557.34,698.65 577.94,702.28 577.94,722.78 557.34,719.15" fill="#8fd744" stroke="#606060" stroke-width="1.1"/><polygon points="548.15,700.6 568.75,704.23 568.75,724.73 548.15,721.1" fill="#8fd744" stroke="#606060" stroke-width="1.1"/><polygon points="538.96,702.55 559.56,706.18 559.56,726.68 538.96,723.05" fill="#8fd744" stroke="#606060" stroke-width="1.1"/><polygon points="529.77,704.5 550.37,708.13 550.37,728.63 529.77,725" fill="#8fd744" stroke="#606060" stroke-width="1.1"/><polygon points="520.58,706.45 541.18,710.08 541.18,730.58 520.58,726.95" fill="#8fd744" stroke="#606060" stroke-width="1.1"/><polygon points="511.39,708.4 531.99,712.03 531.99,732.53 511.39,728.9" fill="#8fd744" stroke="#606060" stroke-width="1.1"/><polygon points="502.2,710.35 522.8,713.98 522.8,734.48 502.2,730.85" fill="#8fd744" stroke="#606060" stroke-width="1.1"/><polygon points="493.01,712.3 513.61,715.93 513.61,736.43 493.01,732.8" fill="#8fd744" stroke="#606060" stroke-width="1.1"/><polygon points="483.82,714.25 504.42,717.88 504.42,738.38 483.82,734.75" fill="#8fd744" stroke="#606060" stroke-width="1.1"/><polygon points="474.63,716.2 495.23,719.83 495.23,740.33 474.63,736.7" fill="#8fd744" stroke="#606060" stroke-width="1.1"/><polygon points="465.44,718.15 486.04,721.78 486.04,742.28 465.44,738.65" fill="#8fd744" stroke="#606060" stroke-width="1.1"/><polygon points="456.25,720.1 476.85,723.73 476.85,744.23 456.25,740.6" fill="#8fd744" stroke="#ff1a8c" stroke-width="2"/><polygon points="447.06,722.05 467.66,725.68 467.66,746.18 447.06,742.55" fill="#fff" stroke="#7f7f7f" stroke-width="1.1"/><polygon points="437.87,724 458.47,727.63 458.47,748.13 437.87,744.5" fill="#fff" stroke="#7f7f7f" stroke-width="1.1"/><polygon points="428.68,725.95 449.28,729.58 449.28,750.08 428.68,746.45" fill="#fff" stroke="#7f7f7f" stroke-width="1.1"/><polygon points="419.49,727.9 440.09,731.53 440.09,752.03 419.49,748.4" fill="#fff" stroke="#7f7f7f" stroke-width="1.1"/><polygon points="410.3,729.85 430.9,733.48 430.9,753.98 410.3,750.35" fill="#fff" stroke="#7f7f7f" stroke-width="1.1"/></g>
<g stroke-linejoin="miter"><polygon points="658.43,714.45 679.03,718.08 679.03,738.58 658.43,734.95" fill="#fde725" stroke="#ff1a8c" stroke-width="2"/><polygon points="649.24,716.4 669.84,720.03 669.84,740.53 649.24,736.9" fill="#fde725" stroke="#606060" stroke-width="1.1"/><polygon points="640.05,718.35 660.65,721.98 660.65,742.48 640.05,738.85" fill="#fde725" stroke="#606060" stroke-width="1.1"/><polygon points="630.86,720.3 651.46,723.93 651.46,744.43 630.86,740.8" fill="#fde725" stroke="#606060" stroke-width="1.1"/><polygon points="621.67,722.25 642.27,725.88 642.27,746.38 621.67,742.75" fill="#fde725" stroke="#606060" stroke-width="1.1"/><polygon points="612.48,724.2 633.08,727.83 633.08,748.33 612.48,744.7" fill="#fde725" stroke="#606060" stroke-width="1.1"/><polygon points="603.29,726.15 623.89,729.78 623.89,750.28 603.29,746.65" fill="#fde725" stroke="#606060" stroke-width="1.1"/><polygon points="594.1,728.1 614.7,731.73 614.7,752.23 594.1,748.6" fill="#fde725" stroke="#606060" stroke-width="1.1"/><polygon points="584.91,730.05 605.51,733.68 605.51,754.18 584.91,750.55" fill="#fde725" stroke="#606060" stroke-width="1.1"/><polygon points="575.72,732 596.32,735.63 596.32,756.13 575.72,752.5" fill="#fde725" stroke="#606060" stroke-width="1.1"/><polygon points="566.53,733.95 587.13,737.58 587.13,758.08 566.53,754.45" fill="#fde725" stroke="#606060" stroke-width="1.1"/><polygon points="557.34,735.9 577.94,739.53 577.94,760.03 557.34,756.4" fill="#fde725" stroke="#606060" stroke-width="1.1"/><polygon points="548.15,737.85 568.75,741.48 568.75,761.98 548.15,758.35" fill="#fde725" stroke="#606060" stroke-width="1.1"/><polygon points="538.96,739.8 559.56,743.43 559.56,763.93 538.96,760.3" fill="#fde725" stroke="#606060" stroke-width="1.1"/><polygon points="529.77,741.75 550.37,745.38 550.37,765.88 529.77,762.25" fill="#fde725" stroke="#606060" stroke-width="1.1"/><polygon points="520.58,743.7 541.18,747.33 541.18,767.83 520.58,764.2" fill="#fde725" stroke="#606060" stroke-width="1.1"/><polygon points="511.39,745.65 531.99,749.28 531.99,769.78 511.39,766.15" fill="#fde725" stroke="#606060" stroke-width="1.1"/><polygon points="502.2,747.6 522.8,751.23 522.8,771.73 502.2,768.1" fill="#fde725" stroke="#606060" stroke-width="1.1"/><polygon points="493.01,749.55 513.61,753.18 513.61,773.68 493.01,770.05" fill="#fde725" stroke="#606060" stroke-width="1.1"/><polygon points="483.82,751.5 504.42,755.13 504.42,775.63 483.82,772" fill="#fde725" stroke="#606060" stroke-width="1.1"/><polygon points="474.63,753.45 495.23,757.08 495.23,777.58 474.63,773.95" fill="#fde725" stroke="#606060" stroke-width="1.1"/><polygon points="465.44,755.4 486.04,759.03 486.04,779.53 465.44,775.9" fill="#fde725" stroke="#ff1a8c" stroke-width="2"/><polygon points="456.25,757.35 476.85,760.98 476.85,781.48 456.25,777.85" fill="#fff" stroke="#7f7f7f" stroke-width="1.1"/><polygon points="447.06,759.3 467.66,762.93 467.66,783.43 447.06,779.8" fill="#fff" stroke="#7f7f7f" stroke-width="1.1"/><polygon points="437.87,761.25 458.47,764.88 458.47,785.38 437.87,781.75" fill="#fff" stroke="#7f7f7f" stroke-width="1.1"/><polygon points="428.68,763.2 449.28,766.83 449.28,787.33 428.68,783.7" fill="#fff" stroke="#7f7f7f" stroke-width="1.1"/><polygon points="419.49,765.15 440.09,768.78 440.09,789.28 419.49,785.65" fill="#fff" stroke="#7f7f7f" stroke-width="1.1"/><polygon points="410.3,767.1 430.9,770.73 430.9,791.23 410.3,787.6" fill="#fff" stroke="#7f7f7f" stroke-width="1.1"/></g>
<line x1="109.8" y1="620.2" x2="204.68" y2="599.86" stroke="#0000cc" stroke-width="2"/><polygon points="221.3,596.3 199.56,609.4 204.68,599.86 196.1,593.26" fill="#0000cc"/>
<text x="58" y="633.5" font-size="32.4" class="bl"><tspan class="i">t</tspan><tspan dy="7" font-size="21">0</tspan></text>
<text x="238.5" y="592.5" font-size="32.4" class="bl"><tspan class="i">t</tspan><tspan class="i" dy="7" font-size="21">N</tspan><tspan font-size="21">-1</tspan></text>
<text x="112" y="694" font-size="32.4"><tspan class="i">I</tspan><tspan dy="7" font-size="21">f</tspan><tspan dy="-7" font-size="32"> (</tspan><tspan class="b">x</tspan><tspan dy="7" font-size="21">0</tspan><tspan dy="-7" font-size="32">, </tspan><tspan class="i">t</tspan><tspan class="i" dy="7" font-size="21">k</tspan><tspan dy="-7" font-size="32">)</tspan></text>
<line x1="457.7" y1="509.3" x2="552.38" y2="489.05" stroke="#c00000" stroke-width="2"/><polygon points="569,485.5 547.26,498.59 552.38,489.05 543.81,482.45" fill="#c00000"/>
<text x="411" y="520" font-size="32.4" class="rd"><tspan class="i">t</tspan><tspan dy="6" font-size="23">ς</tspan></text>
<text x="583" y="479" font-size="32.4" class="rd"><tspan class="i">t</tspan><tspan class="i" dy="7" font-size="21">N</tspan><tspan font-size="21">-1+ς</tspan></text>
<text x="476" y="811.5" font-size="32.4"><tspan class="i">I</tspan><tspan dy="7" font-size="21">b</tspan><tspan dy="-7" font-size="32"> (</tspan><tspan class="b">x</tspan><tspan dy="6" font-size="23">ς</tspan><tspan dy="-6" font-size="32">, </tspan><tspan class="i">t</tspan><tspan class="i" dy="7" font-size="21">k+ς</tspan><tspan dy="-7" font-size="32">)</tspan></text>
<text x="692.5" y="514" font-size="32.4">ς = -3</text>
<text x="692.5" y="551.2" font-size="32.4">ς = -2</text>
<text x="692.5" y="588.4" font-size="32.4">ς = -1</text>
<text x="692.5" y="662.8" font-size="32.4">ς = +1</text>
<text x="692.5" y="700" font-size="32.4">ς = +2</text>
<text x="692.5" y="737.2" font-size="32.4">ς = +3</text>
<circle cx="732.2" cy="456.2" r="2.5" fill="#000"/>
<circle cx="732.2" cy="467" r="2.5" fill="#000"/>
<circle cx="732.2" cy="477.9" r="2.5" fill="#000"/>
<circle cx="732.2" cy="753.1" r="2.5" fill="#000"/>
<circle cx="732.2" cy="764.7" r="2.5" fill="#000"/>
<circle cx="732.2" cy="776.2" r="2.5" fill="#000"/>
<text x="77" y="921" font-size="32.4"><tspan>Dual-plane ensemble correlation </tspan><tspan class="i">R</tspan><tspan dy="7" font-size="21">fb</tspan><tspan dy="-7" font-size="32">(ς)</tspan></text>
<text x="2.5" y="989.5" font-size="36.5">(a)</text>
<text x="947" y="427.3" font-size="36.5">(b)</text>
<text x="947" y="836" font-size="36.5">(c)</text>
<g id="plot-b1">
<g transform="translate(1040 55) scale(0.26055)" clip-path="url(#hclip)"><rect x="80" y="30" width="1150" height="940" fill="#f9eae3"/><rect x="60" y="30" width="45" height="940" fill="#f3f1f1" filter="url(#b8)"/><path d="M500 20H800V90H500Z" fill="#fbdccc" filter="url(#b20)"/><path d="M810 0H1300V1000H960L900 930L1020 760L830 520L790 420L720 300L670 170L760 90Z" fill="#e3edf4" filter="url(#b20)"/><ellipse cx="850" cy="180" rx="110" ry="60" fill="#d3e5f0" filter="url(#b30)"/><path d="M160 640L420 720L520 760L540 980H160Z" fill="#f9d0bd" filter="url(#b30)"/><path d="M200 420C200 250 330 170 450 170C600 170 700 280 700 400C700 520 600 600 470 600C400 600 330 640 250 600C200 560 200 480 200 420Z" fill="#f6bea5" filter="url(#b30)"/><ellipse cx="300" cy="585" rx="110" ry="40" fill="#f5b9a0" filter="url(#b20)"/><ellipse cx="470" cy="400" rx="215" ry="195" fill="#f1a286" filter="url(#b20)"/><ellipse cx="525" cy="435" rx="135" ry="110" fill="#e98a70" filter="url(#b20)"/><ellipse cx="555" cy="450" rx="85" ry="62" fill="#e0735c" filter="url(#b12)"/><path d="M200 980V910C300 780 400 730 520 720C620 730 700 830 760 910L900 960V990Z" fill="#f8c8b3" filter="url(#b30)"/><path d="M200 925H930V975H200Z" fill="#f4b097" filter="url(#b12)"/><path d="M425 790C450 735 560 725 620 765C680 805 720 880 745 920L700 960H560C470 930 400 870 425 790Z" fill="#e47f67" filter="url(#b20)"/><path d="M470 800C500 750 580 750 630 780C680 820 700 860 720 900C660 930 560 920 510 890C470 860 460 830 470 800Z" fill="#d25a4a" filter="url(#b12)"/><path d="M600 810C640 800 670 800 695 835C706 858 690 870 650 868C615 864 595 840 600 810Z" fill="#b01a2c" filter="url(#b8)"/><path d="M420 660C550 570 750 490 900 490C1010 530 1150 630 1160 700C1080 790 970 890 900 930L780 915L640 760Z" fill="#a9d0e5" filter="url(#b30)"/><path d="M600 610L750 560L890 575L1020 650L1080 700L1010 800L910 880L830 910L760 885L640 760Z" fill="#78b4d8" filter="url(#b20)"/><ellipse cx="1130" cy="880" rx="80" ry="50" fill="#f6ebe6" filter="url(#b30)"/><path d="M398 664L480 635L560 607L650 584L730 572L830 585L910 640L970 690L930 760L880 830L840 880L800 900L768 890L730 856L691 814L653 772L595 738L538 716L461 698Z" fill="#3c89c0" filter="url(#b12)"/><path d="M560 700L800 725L900 720L860 800L810 860L770 860L720 800L650 745Z" fill="#3079b6" filter="url(#b12)"/><path d="M450 656L560 612L650 588L750 588L850 610L955 690L880 718L800 730L700 722L600 708L520 686Z" fill="#1d5ba2" filter="url(#b8)"/><path d="M590 660C640 650 660 610 700 600C740 600 740 620 700 640C670 665 620 675 590 660ZM730 810C750 790 790 790 790 810C780 830 750 840 730 810ZM590 710L640 705L650 725L600 725Z" fill="#164f91" filter="url(#b6)"/><ellipse cx="330" cy="668" rx="75" ry="16" fill="#f8f3ef" filter="url(#b12)"/><path d="M620 575C680 545 710 520 745 485" stroke="#f6f2ef" stroke-width="16" fill="none" stroke-linecap="round" filter="url(#b12)" opacity="0.8"/><path d="M380 684C450 700 500 708 560 728" stroke="#f8f3ef" stroke-width="26" fill="none" stroke-linecap="round" filter="url(#b12)" opacity="0.9"/><path d="M330 668C370 664 390 660 410 652C480 628 560 600 640 562M400 680C470 700 540 712 595 745C650 780 690 822 730 864C768 899 826 922 922 937" stroke="#f8f4f1" stroke-width="13" fill="none" stroke-linecap="round" filter="url(#b6)"/><ellipse cx="290" cy="128" rx="18" ry="6" fill="#a5cbe3" filter="url(#b6)"/></g>
<path d="M1049.6 64.6H1371.6V305.2H1049.6ZM1089.6 64.6v11.5M1089.6 305.2v-11.5M1210.4 64.6v11.5M1210.4 305.2v-11.5M1331.4 64.6v11.5M1331.4 305.2v-11.5M1049.6 185h11.5M1371.6 185h-11.5" fill="none" stroke="#000" stroke-width="2.4"/>
</g>
<g id="plot-b2">
<g transform="translate(1388 55) scale(0.26055)" clip-path="url(#hclip)"><rect x="80" y="30" width="1150" height="940" fill="#f9eae3"/><rect x="60" y="30" width="45" height="940" fill="#f3f1f1" filter="url(#b8)"/><path d="M500 20H800V90H500Z" fill="#fbdccc" filter="url(#b20)"/><path d="M810 0H1300V1000H960L900 930L1020 760L830 520L790 420L720 300L670 170L760 90Z" fill="#e3edf4" filter="url(#b20)"/><ellipse cx="850" cy="180" rx="110" ry="60" fill="#d3e5f0" filter="url(#b30)"/><path d="M160 640L420 720L520 760L540 980H160Z" fill="#f9d0bd" filter="url(#b30)"/><path d="M200 420C200 250 330 170 450 170C600 170 700 280 700 400C700 520 600 600 470 600C400 600 330 640 250 600C200 560 200 480 200 420Z" fill="#f6bea5" filter="url(#b30)"/><ellipse cx="300" cy="585" rx="110" ry="40" fill="#f5b9a0" filter="url(#b20)"/><ellipse cx="470" cy="400" rx="215" ry="195" fill="#f1a286" filter="url(#b20)"/><ellipse cx="525" cy="435" rx="135" ry="110" fill="#e98a70" filter="url(#b20)"/><ellipse cx="555" cy="450" rx="85" ry="62" fill="#e0735c" filter="url(#b12)"/><path d="M200 980V910C300 780 400 730 520 720C620 730 700 830 760 910L900 960V990Z" fill="#f8c8b3" filter="url(#b30)"/><path d="M200 925H930V975H200Z" fill="#f4b097" filter="url(#b12)"/><path d="M425 790C450 735 560 725 620 765C680 805 720 880 745 920L700 960H560C470 930 400 870 425 790Z" fill="#e47f67" filter="url(#b20)"/><path d="M470 800C500 750 580 750 630 780C680 820 700 860 720 900C660 930 560 920 510 890C470 860 460 830 470 800Z" fill="#d25a4a" filter="url(#b12)"/><path d="M615 848C640 838 665 828 680 838C686 850 680 858 650 860C630 860 615 856 615 848Z" fill="#c4293a" filter="url(#b6)"/><path d="M420 660C550 570 750 490 900 490C1010 530 1150 630 1160 700C1080 790 970 890 900 930L780 915L640 760Z" fill="#a9d0e5" filter="url(#b30)"/><path d="M600 610L750 560L890 575L1020 650L1080 700L1010 800L910 880L830 910L760 885L640 760Z" fill="#78b4d8" filter="url(#b20)"/><ellipse cx="1130" cy="880" rx="80" ry="50" fill="#f6ebe6" filter="url(#b30)"/><path d="M398 664L480 635L560 607L650 584L730 572L830 585L910 640L970 690L930 760L880 830L840 880L800 900L768 890L730 856L691 814L653 772L595 738L538 716L461 698Z" fill="#3c89c0" filter="url(#b12)"/><path d="M560 700L800 725L900 720L860 800L810 860L770 860L720 800L650 745Z" fill="#3079b6" filter="url(#b12)"/><path d="M450 656L560 612L650 588L750 588L850 610L955 690L880 718L800 730L700 722L600 708L520 686Z" fill="#1d5ba2" filter="url(#b8)"/><path d="M590 660C640 650 660 610 700 600C740 600 740 620 700 640C670 665 620 675 590 660ZM730 810C750 790 790 790 790 810C780 830 750 840 730 810ZM590 710L640 705L650 725L600 725Z" fill="#164f91" filter="url(#b6)"/><ellipse cx="330" cy="668" rx="75" ry="16" fill="#f8f3ef" filter="url(#b12)"/><path d="M620 575C680 545 710 520 745 485" stroke="#f6f2ef" stroke-width="16" fill="none" stroke-linecap="round" filter="url(#b12)" opacity="0.8"/><path d="M380 684C450 700 500 708 560 728" stroke="#f8f3ef" stroke-width="26" fill="none" stroke-linecap="round" filter="url(#b12)" opacity="0.9"/><path d="M330 668C370 664 390 660 410 652C480 628 560 600 640 562M400 680C470 700 540 712 595 745C650 780 690 822 730 864C768 899 826 922 922 937" stroke="#f8f4f1" stroke-width="13" fill="none" stroke-linecap="round" filter="url(#b6)"/><ellipse cx="290" cy="128" rx="18" ry="6" fill="#a5cbe3" filter="url(#b6)"/></g>
<path d="M1397.6 64.6H1719.6V305.2H1397.6ZM1437.6 64.6v11.5M1437.6 305.2v-11.5M1558.4 64.6v11.5M1558.4 305.2v-11.5M1679.4 64.6v11.5M1679.4 305.2v-11.5M1397.6 185h11.5M1719.6 185h-11.5" fill="none" stroke="#000" stroke-width="2.4"/>
</g>
<rect x="1745.6" y="70.4" width="21.8" height="228.4" fill="url(#cb)" stroke="#000" stroke-width="2"/><path d="M1767.4 184.6h-13" stroke="#000" stroke-width="2"/><text x="1780" y="82.8" font-size="31.5">20</text><text x="1780" y="196.2" font-size="31.5">0</text><text x="1780" y="310.8" font-size="31.5">−20</text><text font-size="31.5" text-anchor="middle" transform="translate(1839 184.6) rotate(-90)"><tspan class="i">w</tspan> [mm/s]</text>
<text x="1091" y="38" font-size="35">Foreside</text>
<text x="1564" y="38" font-size="35">Backside</text>
<text x="1035.5" y="76.2" font-size="31.2" text-anchor="end">0</text>
<text x="1035.5" y="196.7" font-size="31.2" text-anchor="end">750</text>
<text x="1035.5" y="317.4" font-size="31.2" text-anchor="end">1500</text>
<text x="1089.1" y="341.5" font-size="31.2" text-anchor="middle">-750</text>
<text x="1437.1" y="341.5" font-size="31.2" text-anchor="middle">-750</text>
<text x="1210.4" y="341.5" font-size="31.2" text-anchor="middle">0</text>
<text x="1558.4" y="341.5" font-size="31.2" text-anchor="middle">0</text>
<text x="1331.4" y="341.5" font-size="31.2" text-anchor="middle">750</text>
<text x="1679.4" y="341.5" font-size="31.2" text-anchor="middle">750</text>
<text x="1210.5" y="375.7" font-size="32" text-anchor="middle"><tspan class="i">x</tspan> [pixel]</text>
<text x="1558.5" y="375.7" font-size="32" text-anchor="middle"><tspan class="i">x</tspan> [pixel]</text>
<text font-size="32" text-anchor="middle" transform="translate(974 184.6) rotate(-90)"><tspan class="i">y</tspan> [pixel]</text>
<g id="plot-c">
<rect x="1223.7" y="475.5" width="322.1" height="16.45" fill="url(#c0)"/>
<rect x="1223.7" y="491.55" width="322.1" height="16.45" fill="url(#c1)"/>
<rect x="1223.7" y="507.61" width="322.1" height="16.45" fill="url(#c2)"/>
<rect x="1223.7" y="523.66" width="322.1" height="16.45" fill="url(#c3)"/>
<rect x="1223.7" y="539.71" width="322.1" height="16.45" fill="url(#c4)"/>
<rect x="1223.7" y="555.77" width="322.1" height="16.45" fill="url(#c5)"/>
<rect x="1223.7" y="571.82" width="322.1" height="16.45" fill="url(#c6)"/>
<rect x="1223.7" y="587.87" width="322.1" height="16.45" fill="url(#c7)"/>
<rect x="1223.7" y="603.93" width="322.1" height="16.45" fill="url(#c8)"/>
<rect x="1223.7" y="619.98" width="322.1" height="16.45" fill="url(#c9)"/>
<rect x="1223.7" y="636.03" width="322.1" height="16.45" fill="url(#c10)"/>
<rect x="1223.7" y="652.09" width="322.1" height="16.45" fill="url(#c11)"/>
<rect x="1223.7" y="668.14" width="322.1" height="16.45" fill="url(#c12)"/>
<rect x="1223.7" y="684.19" width="322.1" height="16.45" fill="url(#c13)"/>
<rect x="1223.7" y="700.25" width="322.1" height="16.45" fill="url(#c14)"/>
<path d="M1223.7 475.7H1545.8V716.5H1223.7ZM1264 475.7v11.5M1264 716.5v-11.5M1384.5 475.7v11.5M1384.5 716.5v-11.5M1505.5 475.7v11.5M1505.5 716.5v-11.5M1223.7 596.1h11.5M1545.8 596.1h-11.5" fill="none" stroke="#000" stroke-width="2.4"/>
</g>
<rect x="1578.5" y="481.5" width="20.8" height="227.8" fill="url(#cb)" stroke="#000" stroke-width="2"/><path d="M1599.3 595.4h-13" stroke="#000" stroke-width="2"/><text x="1612" y="493.9" font-size="31.5">20</text><text x="1612" y="607" font-size="31.5">0</text><text x="1612" y="721.3" font-size="31.5">−20</text><text font-size="31.5" text-anchor="middle" transform="translate(1671 595.4) rotate(-90)"><tspan class="i">w</tspan> [mm/s]</text>
<text x="1384.2" y="467" font-size="31.5" text-anchor="middle">Conventional PIV</text>
<text x="1209.5" y="487.4" font-size="31.2" text-anchor="end">0</text>
<text x="1209.5" y="607.6" font-size="31.2" text-anchor="end">75</text>
<text x="1209.5" y="728.7" font-size="31.2" text-anchor="end">150</text>
<text x="1263.5" y="752.8" font-size="31.2" text-anchor="middle">-75</text>
<text x="1384.5" y="752.8" font-size="31.2" text-anchor="middle">0</text>
<text x="1505.5" y="752.8" font-size="31.2" text-anchor="middle">75</text>
<text x="1384" y="787.8" font-size="32" text-anchor="middle"><tspan class="i">x</tspan> [mm]</text>
<text font-size="32" text-anchor="middle" transform="translate(1166 596) rotate(-90)"><tspan class="i">y</tspan> [mm]</text>
</svg>
</body></html>
